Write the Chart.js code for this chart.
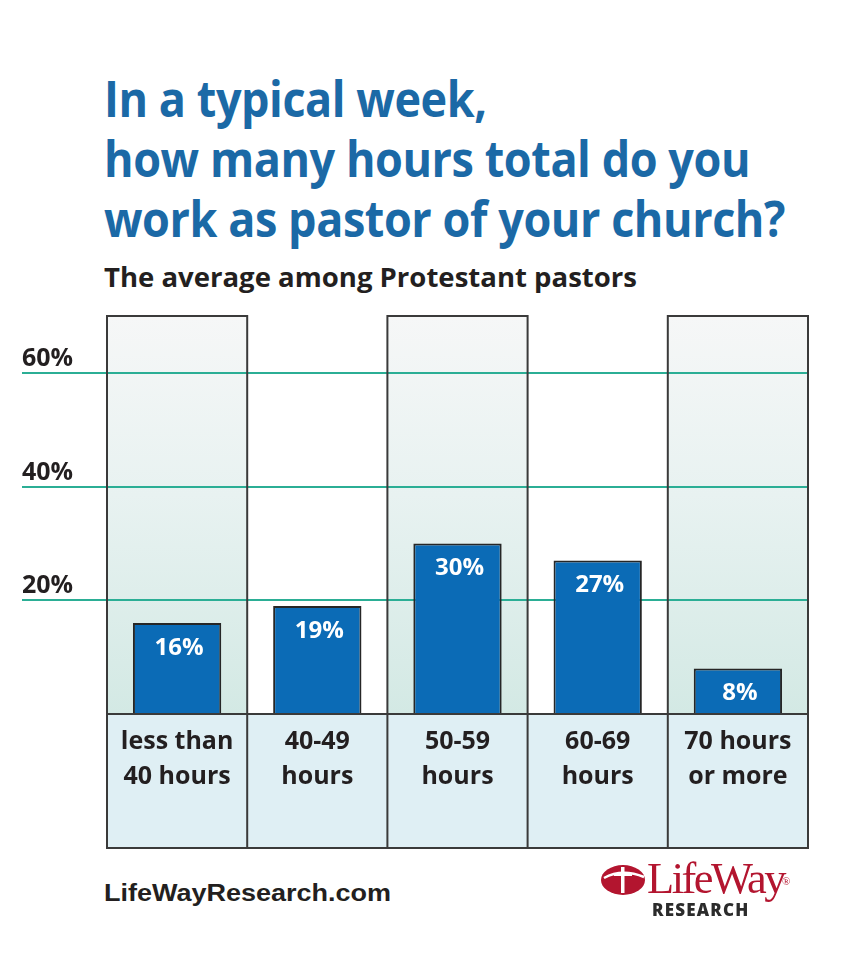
<!DOCTYPE html>
<html><head><meta charset="utf-8">
<script src="https://cdn.jsdelivr.net/npm/chart.js@4/dist/chart.umd.min.js"></script>
<style>
html,body{margin:0;padding:0;background:#fff}
body{width:863px;height:980px;overflow:hidden;position:relative;font-family:"Open Sans",sans-serif}
#title{position:absolute;left:104px;top:68px;color:#1b69a6;font-weight:700;font-size:50px;line-height:60px;white-space:nowrap;transform-origin:0 0;letter-spacing:-0.5px}
#sub{position:absolute;left:104px;top:259px;color:#231f20;font-weight:700;font-size:26px;white-space:nowrap;transform-origin:0 0}
#wrap{position:absolute;left:0;top:300px;width:863px;height:560px}
#foot{position:absolute;left:104px;top:879px;font-family:"Liberation Sans",Arial,sans-serif;font-weight:700;font-size:24px;color:#231f20}
#logo{position:absolute;left:600px;top:858px;width:200px;height:70px}
#lw{position:absolute;left:47px;top:-5px;font-family:"Liberation Serif","Times New Roman",serif;font-size:45px;color:#b3152f;letter-spacing:-2.5px;line-height:50px;white-space:nowrap}
#reg{position:absolute;left:182px;top:17px;font-family:"Liberation Serif",serif;font-size:11px;color:#b3152f}
#rs{position:absolute;left:52px;top:40px;font-family:"Open Sans",sans-serif;font-weight:800;font-size:17px;color:#2b2b2b;letter-spacing:1.2px}
</style></head>
<body>
<div id="title"><span>In a typical week,</span><br><span>how many hours total do you</span><br><span id="t3">work as pastor of your church?</span></div>
<div id="sub">The average among Protestant pastors</div>
<div id="wrap"><canvas id="c" width="863" height="560"></canvas></div>
<div id="foot">LifeWayResearch.com</div>
<div id="logo">
<svg width="48" height="36" style="position:absolute;left:0;top:6px" viewBox="0 0 48 36">
<ellipse cx="23" cy="16" rx="22" ry="15" fill="#b3152f"/>
<path d="M4 14 Q22 4 44 13" stroke="#fff" stroke-width="2.5" fill="none"/>
<rect x="21" y="3" width="3.5" height="26" fill="#fff"/>
<rect x="14" y="9" width="18" height="3" fill="#fff"/>
</svg>
<div id="lw">LifeWay</div>
<div id="reg">®</div>
<div id="rs">RESEARCH</div>
</div>
<script>
const categories = [["less than","40 hours"],["40-49","hours"],["50-59","hours"],["60-69","hours"],["70 hours","or more"]];
const values = [16, 19, 30, 27, 8];
const tickValues = [20, 40, 60];
const yMax = 70;

(function(){
  const t = document.getElementById('title');
  const w = document.getElementById('t3').getBoundingClientRect().width;
  t.style.transform = 'scaleX(' + (681 / w) + ')';
  const s = document.getElementById('sub');
  s.style.transform = 'scaleX(' + (533 / s.getBoundingClientRect().width) + ')';
  const f = document.getElementById('foot');
  f.style.transformOrigin='0 0';
  f.style.transform = 'scaleX(' + (287 / f.getBoundingClientRect().width) + ')';
  const lw = document.getElementById('lw');
  lw.style.transformOrigin='0 0';
  lw.style.transform = 'scaleX(' + (137 / lw.getBoundingClientRect().width) + ')';
})();

const CELL_H = 134;
const panels = {
  id: 'panels',
  beforeDraw(chart) {
    const {ctx, chartArea: a, scales: {x}} = chart;
    const n = categories.length, bw = (a.right - a.left) / n;
    ctx.save();
    for (let i = 0; i < n; i++) {
      const cx = x.getPixelForValue(i), l = cx - bw / 2;
      if (i % 2 === 0) {
        const g = ctx.createLinearGradient(0, a.top, 0, a.bottom);
        g.addColorStop(0, '#f6f7f7');
        g.addColorStop(0.45, '#e8f2f1');
        g.addColorStop(1, '#d3e9e4');
        ctx.fillStyle = g;
        ctx.fillRect(l, a.top, bw, a.bottom - a.top);
      }
      ctx.fillStyle = '#dfeff4';
      ctx.fillRect(l, a.bottom, bw, CELL_H);
    }
    ctx.restore();
  },
  beforeDatasetsDraw(chart) {
    const {ctx, chartArea: a, scales: {x}} = chart;
    const n = categories.length, bw = (a.right - a.left) / n;
    ctx.save();
    ctx.strokeStyle = '#3a3a3a';
    ctx.lineWidth = 2;
    ctx.beginPath();
    for (let i = 0; i < n; i++) {
      const cx = x.getPixelForValue(i), l = cx - bw / 2, r = cx + bw / 2;
      if (i % 2 === 0) {
        ctx.moveTo(l, a.top); ctx.lineTo(l, a.bottom + CELL_H);
        ctx.moveTo(r, a.top); ctx.lineTo(r, a.bottom + CELL_H);
        ctx.moveTo(l - 1, a.top); ctx.lineTo(r + 1, a.top);
      }
    }
    ctx.moveTo(a.left - 1, a.bottom); ctx.lineTo(a.right + 1, a.bottom);
    ctx.moveTo(a.left - 1, a.bottom + CELL_H); ctx.lineTo(a.right + 1, a.bottom + CELL_H);
    ctx.stroke();
    ctx.restore();
  },
  afterDatasetsDraw(chart) {
    const {ctx} = chart;
    const meta = chart.getDatasetMeta(0);
    ctx.save();
    ctx.fillStyle = '#ffffff';
    ctx.font = '700 24px "Open Sans", sans-serif';
    ctx.textAlign = 'center';
    ctx.textBaseline = 'middle';
    meta.data.forEach((bar, i) => {
      ctx.fillText(values[i] + '%', bar.x + 2, bar.y + 25);
    });
    ctx.restore();
  }
};

new Chart(document.getElementById('c'), {
  type: 'bar',
  data: {
    labels: categories,
    datasets: [{
      data: values,
      backgroundColor: '#0b6bb6',
      borderColor: '#262626',
      borderWidth: 2,
      borderSkipped: 'bottom',
      barPercentage: 0.63,
      categoryPercentage: 1
    }]
  },
  options: {
    responsive: false,
    animation: false,
    events: [],
    layout: {padding: {top: 16, left: 22, right: 55, bottom: 12}},
    plugins: {legend: {display: false}, tooltip: {enabled: false}},
    scales: {
      x: {
        grid: {display: false, drawTicks: false},
        border: {display: false},
        ticks: {
          color: '#231f20',
          font: {family: '"Open Sans", sans-serif', weight: '700', size: 25, lineHeight: 1.4},
          padding: 10,
          maxRotation: 0,
          autoSkip: false
        },
        afterFit(s) { s.height = CELL_H; }
      },
      y: {
        min: 0, max: yMax,
        border: {display: false},
        grid: {
          color: c => tickValues.includes(c.tick.value) ? '#2bae95' : 'rgba(0,0,0,0)',
          lineWidth: 2,
          tickLength: 85
        },
        afterBuildTicks(s) { s.ticks = [0].concat(tickValues).map(v => ({value: v})); },
        ticks: {
          callback: v => tickValues.includes(v) ? v + '%' : '',
          color: '#231f20',
          font: {family: '"Open Sans", sans-serif', weight: '700', size: 25},
          crossAlign: 'far',
          labelOffset: -14,
          padding: 0
        },
        afterFit(s) { s.width = 85; }
      }
    }
  },
  plugins: [panels]
});
</script>
</body></html>
